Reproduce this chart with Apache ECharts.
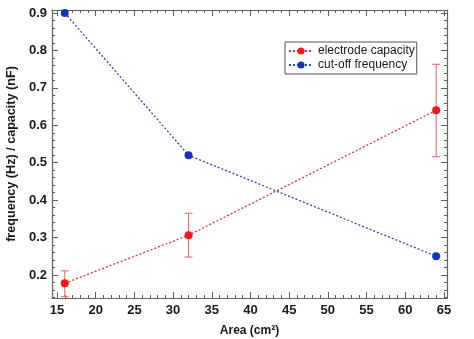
<!DOCTYPE html>
<html><head><meta charset="utf-8">
<script src="https://cdn.jsdelivr.net/npm/echarts@6/dist/echarts.min.js"></script>
<style>html,body{margin:0;padding:0;background:#fff}#c{width:474px;height:339px}</style>
</head><body><div id="c"></div>
<script>
// ---- data ----
const areas = [16, 32, 64];
const capacity = [0.178, 0.306, 0.640];
const capacityLow = [0.142, 0.248, 0.516];
const capacityHigh = [0.211, 0.365, 0.763];
const cutoff = [0.900, 0.520, 0.250];
const xTicks = [15, 20, 25, 30, 35, 40, 45, 50, 55, 60, 65];
const yTicks = [0.2, 0.3, 0.4, 0.5, 0.6, 0.7, 0.8, 0.9];
const seriesNames = ['electrode capacity', 'cut-off frequency'];

const X_MIN = 14.35, X_MAX = 65.4, Y_MIN = 0.1385, Y_MAX = 0.908;
const xMinor = []; for (let v = 15; v <= 65; v += 1) if (v % 5) xMinor.push(v);
const yMinor = []; for (let i = 7; i <= 45; i++) { if (i % 5) yMinor.push(+(i * 0.02).toFixed(2)); }
const yMinorIn = yMinor.filter(v => v > Y_MIN && v < Y_MAX);

const FONT = '"Liberation Sans", Arial, sans-serif';
const AX = '#606060';
function mkX(pos, major, labels, extra) {
  return Object.assign({
    type: 'value', position: pos, min: X_MIN, max: X_MAX,
    axisLine: { show: major, lineStyle: { color: AX, width: 1.2 } },
    axisTick: { show: true, inside: true, length: major ? 6 : 3, lineStyle: { color: AX },
      customValues: major ? xTicks : xMinor },
    axisLabel: { show: labels, customValues: xTicks, color: '#1a1a1a', fontWeight: 'bold', fontSize: 13, fontFamily: FONT, margin: 6 },
    splitLine: { show: false }
  }, extra || {});
}
function mkY(pos, major, labels, extra) {
  return Object.assign({
    type: 'value', position: pos, min: Y_MIN, max: Y_MAX,
    axisLine: { show: major, lineStyle: { color: AX, width: 1.2 } },
    axisTick: { show: true, inside: true, length: major ? 6 : 3, lineStyle: { color: AX },
      customValues: major ? yTicks : yMinorIn },
    axisLabel: { show: labels, customValues: yTicks, color: '#1a1a1a', fontWeight: 'bold', fontSize: 13, fontFamily: FONT, margin: 5,
      formatter: v => v.toFixed(1) },
    splitLine: { show: false }
  }, extra || {});
}

const chart = echarts.init(document.getElementById('c'), null, { renderer: 'canvas' });
chart.setOption({
  animation: false,
  backgroundColor: '#fff',
  textStyle: { fontFamily: FONT },
  grid: { left: 52, right: 27, top: 10, bottom: 41, outerBoundsMode: 'none', containLabel: false },
  xAxis: [
    mkX('bottom', true, true, { name: 'Area (cm²)', nameLocation: 'middle', nameGap: 27,
      nameTextStyle: { fontWeight: 'bold', fontSize: 12, color: '#1a1a1a', fontFamily: FONT } }),
    mkX('bottom', false, false),
    mkX('top', true, false),
    mkX('top', false, false)
  ],
  yAxis: [
    mkY('left', true, true, { name: 'frequency (Hz) / capacity (nF)', nameLocation: 'middle', nameGap: 31,
      nameTextStyle: { fontWeight: 'bold', fontSize: 12.6, color: '#1a1a1a', fontFamily: FONT } }),
    mkY('left', false, false),
    mkY('right', true, false),
    mkY('right', false, false)
  ],
  legend: {
    orient: 'vertical', left: 285, top: 42, itemGap: 2, itemWidth: 24, itemHeight: 9,
    padding: [3, 2, 3, 3],
    borderColor: '#555', borderWidth: 1, backgroundColor: '#fff',
    textStyle: { fontSize: 12, color: '#1a1a1a', fontFamily: FONT },
    data: seriesNames
  },
  series: [
    {
      name: seriesNames[0], type: 'line', data: areas.map((a, i) => [a, capacity[i]]),
      symbol: 'circle', symbolSize: 8, color: '#f01818',
      lineStyle: { type: [2, 2], width: 1.3, color: '#e83030' }, z: 5
    },
    {
      name: seriesNames[1], type: 'line', data: areas.map((a, i) => [a, cutoff[i]]),
      symbol: 'circle', symbolSize: 8, color: '#1433c4',
      lineStyle: { type: [2, 2], width: 1.3, color: '#2a46b8' }, z: 5
    },
    {
      type: 'custom', name: 'err', z: 4, silent: true,
      data: areas.map((a, i) => [a, capacityLow[i], capacityHigh[i]]),
      renderItem: function (params, api) {
        const lo = api.coord([api.value(0), api.value(1)]);
        const hi = api.coord([api.value(0), api.value(2)]);
        const w = 4;
        const st = { stroke: '#e86060', lineWidth: 1 };
        return { type: 'group', children: [
          { type: 'line', shape: { x1: lo[0], y1: lo[1], x2: hi[0], y2: hi[1] }, style: st },
          { type: 'line', shape: { x1: lo[0] - w, y1: lo[1], x2: lo[0] + w, y2: lo[1] }, style: st },
          { type: 'line', shape: { x1: hi[0] - w, y1: hi[1], x2: hi[0] + w, y2: hi[1] }, style: st }
        ] };
      }
    }
  ]
});
</script></body></html>
